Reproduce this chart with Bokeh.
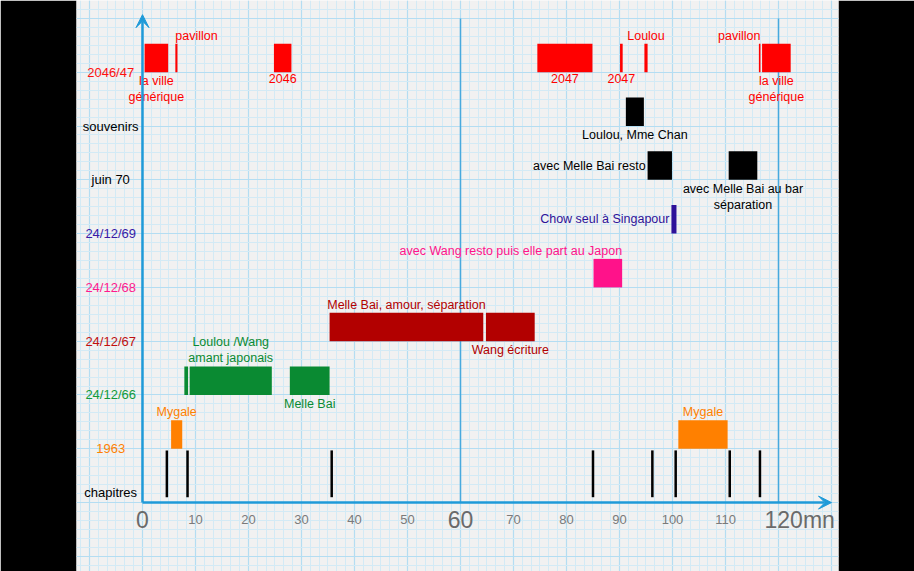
from bokeh.plotting import figure
from bokeh.models import Range1d, Grid, SingleIntervalTicker, Arrow, VeeHead, ColumnDataSource
from bokeh.embed import file_html
from bokeh.resources import INLINE
from bokeh.core.properties import value

# ---------------- data ----------------
rows = ["chapitres", "1963", "24/12/66", "24/12/67", "24/12/68",
        "24/12/69", "juin 70", "souvenirs", "2046/47"]
row_colors = ["#000000", "#ff8000", "#0a8a32", "#b20000", "#ff128a",
              "#2e1199", "#000000", "#000000", "#ff0000"]
label_colors = ["#000000", "#ff8000", "#139a3a", "#c01010", "#ff1a8c",
                "#3a1aa6", "#000000", "#000000", "#ff1010"]

# scenes: row index, start (mn), end (mn)
seg_row = [8, 8, 8, 8, 8, 8, 8, 8,
           7,
           6, 6,
           5,
           4,
           3, 3,
           2, 2, 2,
           1, 1]
seg_start = [0.4, 6.2, 24.8, 74.5, 90.1, 94.7, 116.3, 116.9,
             91.2,
             95.3, 110.6,
             99.8,
             85.1,
             35.3, 64.8,
             7.9, 8.9, 27.8,
             5.4, 101.1]
seg_end = [4.85, 6.6, 28.1, 84.9, 90.6, 95.3, 116.6, 122.3,
           94.6,
           99.9, 116.0,
           100.75,
           90.5,
           64.3, 74.0,
           8.6, 24.4, 35.3,
           7.5, 110.4]

chapter_marks = [4.6, 8.5, 35.7, 85.0, 96.2, 100.6, 110.8, 116.5]

# annotations: text, scene index, placement
ann_text = ["la ville\ngénérique", "pavillon", "2046", "2047", "2047", "Loulou",
            "pavillon", "la ville\ngénérique",
            "Loulou, Mme Chan",
            "avec Melle Bai resto", "avec Melle Bai au bar\nséparation",
            "Chow seul à Singapour",
            "avec Wang resto puis elle part au Japon",
            "Melle Bai, amour, séparation", "Wang écriture",
            "Loulou /Wang\namant japonais", "Melle Bai",
            "Mygale", "Mygale"]
ann_seg = [0, 1, 2, 3, 4, 5, 6, 7, 8, 9, 10, 11, 12, 13, 14, 16, 17, 18, 19]
ann_place = ["below", "above_left", "below", "below", "below", "above",
             "above_right", "below", "below", "left", "below", "left",
             "above_right", "above", "below", "above", "below", "above", "above"]

tick_values = [0, 10, 20, 30, 40, 50, 60, 70, 80, 90, 100, 110, 120]
tick_labels = ["0", "10", "20", "30", "40", "50", "60", "70", "80", "90", "100", "110", "120mn"]
major_marks = [60, 120]

# ---------------- styling ----------------
BLUE = "#1f9ad8"
FONT = value("Liberation Sans")
BAR_H = 0.53

p = figure(width=914, height=571,
           x_range=Range1d(-12.45, 131.32), y_range=Range1d(-1.281, 9.333),
           x_axis_location=None, y_axis_location=None,
           toolbar_location=None, output_backend="svg",
           min_border_left=76, min_border_right=76,
           min_border_top=0, min_border_bottom=0,
           background_fill_color="#f1f1f1", border_fill_color="black",
           outline_line_color=None)
p.grid.visible = False

for dim, ticker in ((0, SingleIntervalTicker(interval=10, num_minor_ticks=6)),
                    (1, SingleIntervalTicker(interval=1, num_minor_ticks=6))):
    g = Grid(dimension=dim, ticker=ticker,
             grid_line_color="#b4ddf2", grid_line_width=1.2,
             minor_grid_line_color="#d3eaf5", minor_grid_line_width=1)
    p.add_layout(g)

# reference lines at 60 and 120 mn
p.segment(x0=major_marks, y0=[0] * len(major_marks), x1=major_marks,
          y1=[9.0] * len(major_marks), line_color="#47a9de", line_width=1.5)

# axes with arrows
p.add_layout(Arrow(end=VeeHead(size=13, fill_color=BLUE, line_color=BLUE),
                   x_start=0, y_start=0, x_end=0, y_end=9.07,
                   line_color=BLUE, line_width=2.5))
p.add_layout(Arrow(end=VeeHead(size=13, fill_color=BLUE, line_color=BLUE),
                   x_start=0, y_start=0, x_end=130.0, y_end=0,
                   line_color=BLUE, line_width=2.5))

# scenes
src = ColumnDataSource(dict(
    left=seg_start, right=seg_end,
    bottom=[r for r in seg_row], top=[r + BAR_H for r in seg_row],
    color=[row_colors[r] for r in seg_row]))
p.quad(left="left", right="right", bottom="bottom", top="top",
       fill_color="color", line_color=None, source=src)

# chapters
p.segment(x0=chapter_marks, y0=[0.1] * len(chapter_marks),
          x1=chapter_marks, y1=[0.97] * len(chapter_marks),
          line_color="black", line_width=2.5)

# row labels
label_y = [i + (0.19 if i == 0 else 0.0) for i in range(len(rows))]
p.text(x=[-6.0] * len(rows), y=label_y, text=rows, text_color=label_colors,
       text_align="center", text_baseline="middle",
       text_font=FONT, text_font_size="13px")

# annotations
groups = {
    "below": dict(align="center", base="top", xo=0, yo=2),
    "above": dict(align="center", base="bottom", xo=0, yo=-1),
    "above_left": dict(align="left", base="bottom", xo=0, yo=-1),
    "above_right": dict(align="right", base="bottom", xo=0, yo=-1),
    "left": dict(align="right", base="middle", xo=-2, yo=0),
}
for place, cfg in groups.items():
    xs, ys, ts, cs = [], [], [], []
    for t, si, pl in zip(ann_text, ann_seg, ann_place):
        if pl != place:
            continue
        r = seg_row[si]
        s, e = seg_start[si], seg_end[si]
        if place in ("below", "above"):
            x = (s + e) / 2
        elif place == "above_right":
            x = e
        else:
            x = s
        if place == "below":
            y = r
        elif place == "left":
            y = r + BAR_H / 2
        else:
            y = r + BAR_H
        xs.append(x); ys.append(y); ts.append(t); cs.append(row_colors[r])
    if xs:
        p.text(x=xs, y=ys, text=ts, text_color=cs,
               text_align=cfg["align"], text_baseline=cfg["base"],
               x_offset=cfg["xo"], y_offset=cfg["yo"],
               text_font=FONT, text_font_size="12.5px", text_line_height=1.16)

# tick labels
small_x = [v for v, t in zip(tick_values, tick_labels) if v % 60 != 0]
small_t = [t for v, t in zip(tick_values, tick_labels) if v % 60 != 0]
p.text(x=small_x, y=[0] * len(small_x), text=small_t, text_color="#7a7a7a",
       text_align="center", text_baseline="middle", y_offset=17,
       text_font=FONT, text_font_size="13px")
big_x = [v for v in tick_values if v % 60 == 0 and v != 120]
big_t = [t for v, t in zip(tick_values, tick_labels) if v % 60 == 0 and v != 120]
p.text(x=big_x, y=[0] * len(big_x), text=big_t, text_color="#6a6a6a",
       text_align="center", text_baseline="middle", y_offset=17,
       text_font=FONT, text_font_size="23px")
p.text(x=[tick_values[-1]], y=[0], text=[tick_labels[-1]], text_color="#6a6a6a",
       text_align="left", text_baseline="middle", x_offset=-14, y_offset=17,
       text_font=FONT, text_font_size="23px")

open("out.html", "w").write(file_html(p, INLINE))
